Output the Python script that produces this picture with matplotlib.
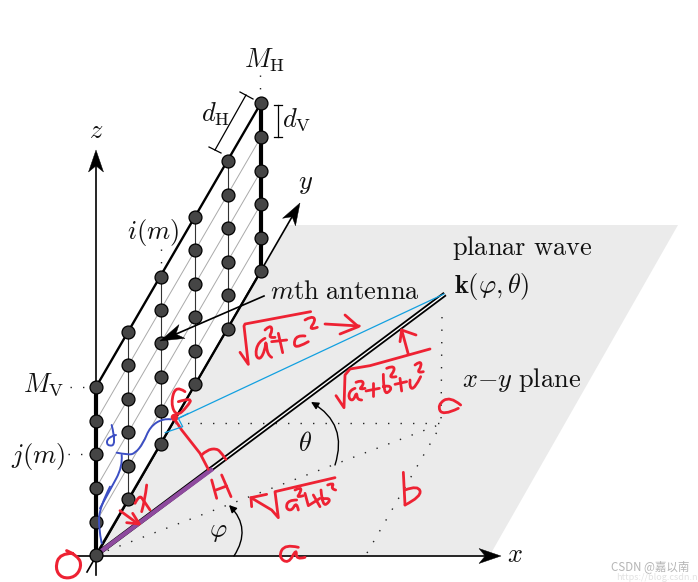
"""
Planar array geometry sketch, with the hand drawn red and blue notes on top.
All coordinates are image pixels (y going down).
"""

import math

import matplotlib

matplotlib.use("Agg")
import matplotlib.pyplot as plt
from matplotlib.patches import FancyArrowPatch, PathPatch, Polygon
from matplotlib.path import Path

plt.rcParams["mathtext.fontset"] = "cm"

RED = "#ee2233"
BLUE = "#3c4fc4"
CYAN = "#12a0e0"
PURPLE = "#8e4a9e"

# antenna rows for every column, x -> y of the elements
col_x = [96, 128, 161, 195, 228, 261]
col_0 = [555, 522, 488, 454, 421, 387]
col_1 = [499, 466, 432, 399, 365, 332]
col_2 = [444, 411, 377, 343, 310, 277]
col_3 = [384, 351, 317, 284, 250, 217]
col_4 = [329, 295, 262, 228, 195, 161]
col_5 = [271, 238, 204, 171, 137, 103]
columns = [col_0, col_1, col_2, col_3, col_4, col_5]

plane = [(96, 555), (490, 555), (678, 225), (288, 225)]

# dotted construction lines
dots_floor = [(96, 555), (441, 424)]
dots_horizontal = [(175, 423), (441, 423)]
dots_vertical = [(442, 317), (441, 424)]
dots_b = [(367, 553), (441, 425)]
dots_mh = [(260, 75), (260, 95)]
dots_im = [(161, 249), (161, 272)]
dots_mv = [(70, 387), (90, 387)]
dots_jm = [(68, 454), (90, 454)]

# hand drawn strokes, given in 3x crop coordinates
# origin (0, 340)
o_loop = [(218, 640), (180, 640), (165, 685), (185, 715), (225, 712), (245, 680), (235, 648), (200, 632)]
right_angle = [(605, 345), (620, 330), (650, 325), (665, 340), (678, 358)]
h_left = [(635, 420), (650, 475)]
h_right = [(665, 405), (693, 470)]
h_bar = [(648, 450), (680, 438)]
blue_tail_low = [(330, 440), (300, 500), (295, 560), (305, 610)]

# origin (100, 380)
g_letter = [(255, 35), (228, 15), (212, 70), (230, 110), (262, 80), (278, 52), (235, 65)]
perp_line = [(222, 115), (245, 150), (300, 220), (325, 268)]
gamma_left = [(105, 370), (118, 345), (130, 360), (150, 390)]
gamma_right = [(140, 315), (135, 360), (125, 395)]
gamma_arrow = [(60, 392), (115, 432)]
gamma_head = [(80, 428), (118, 432), (98, 400)]
blue_curve = [(212, 118), (190, 115), (150, 140), (130, 190), (105, 220), (85, 225), (50, 218)]
blue_tail = [(65, 225), (68, 260), (30, 330), (0, 385)]
blue_d = [(48, 165), (22, 172), (20, 198), (50, 195), (35, 135)]
cyan_hook = [(195, 158), (248, 140), (235, 115), (265, 100)]

# origin (230, 300): root of a^2 + c^2
ac_root = [(30, 157), (55, 193), (42, 78), (45, 72), (242, 35)]
ac_a = [(105, 115), (85, 125), (75, 165), (90, 180), (105, 150), (108, 118), (112, 165), (125, 172)]
ac_sq_a = [(105, 90), (120, 75), (128, 90), (115, 115), (135, 112)]
ac_plus_h = [(125, 125), (170, 120)]
ac_plus_v = [(145, 100), (158, 158)]
ac_c = [(225, 108), (200, 105), (190, 135), (205, 142), (235, 125)]
ac_sq_c = [(225, 60), (245, 48), (258, 60), (235, 92), (262, 82)]
ac_arrow = [(285, 72), (388, 78)]
ac_head = [(345, 45), (385, 80), (330, 102)]

# origin (330, 325): root of a^2 + b^2 + c^2
abc_root = [(18, 212), (42, 248), (45, 150), (60, 132), (120, 122), (300, 72)]
abc_a = [(75, 190), (60, 195), (55, 220), (70, 228), (80, 200), (82, 225), (95, 225)]
abc_sq_a = [(78, 172), (95, 165), (102, 178), (85, 195), (105, 190)]
abc_plus1_h = [(108, 198), (148, 190)]
abc_plus1_v = [(130, 175), (130, 212)]
abc_b = [(160, 148), (160, 210), (185, 195), (178, 180), (160, 185)]
abc_sq_b = [(170, 130), (188, 122), (195, 135), (175, 160), (198, 155)]
abc_plus2_h = [(195, 178), (230, 170)]
abc_plus2_v = [(210, 160), (215, 198)]
abc_c = [(240, 165), (238, 190), (255, 190), (272, 155)]
abc_sq_c = [(255, 120), (270, 108), (275, 122), (260, 145), (280, 140)]
abc_arrow = [(235, 88), (215, 15)]
abc_head = [(210, 50), (215, 15), (258, 30)]

# origin (245, 475): root of a^2 + b^2
ab_head = [(65, 58), (18, 68), (20, 95)]
ab_root = [(18, 68), (80, 105), (100, 128), (90, 50), (270, 8)]
ab_a = [(155, 75), (130, 75), (122, 100), (140, 108), (155, 80), (160, 105)]
ab_sq_a = [(150, 45), (170, 35), (165, 55), (155, 68), (175, 62)]
ab_plus = [(180, 55), (190, 92), (225, 70)]
ab_plus_v = [(205, 60), (225, 95)]
ab_b = [(228, 45), (232, 95), (255, 80), (250, 68), (232, 72)]
ab_sq_b = [(248, 30), (268, 22), (258, 42), (272, 45)]

# origin (220, 230) and (220, 440)
c_stroke = [(722, 525), (690, 498), (652, 525), (668, 558), (715, 535)]
small_a = [(235, 322), (195, 312), (175, 350), (205, 372), (230, 325), (228, 360), (255, 352)]
b_stem = [(550, 97), (555, 195)]
b_loop = [(555, 150), (595, 135), (605, 170), (555, 195)]


def crop(points, x0, y0):
    return [(x0 + px / 3, y0 + py / 3) for px, py in points]


def stroke(ax, points, x0, y0, color=RED, lw=2.0, smooth=True):
    pts = crop(points, x0, y0)
    if not smooth or len(pts) < 3:
        ax.plot(*zip(*pts), color=color, lw=lw, solid_capstyle="round", solid_joinstyle="round", zorder=8)
        return
    # quadratic pieces through the midpoints keep the pen stroke round
    verts = [pts[0]]
    codes = [Path.MOVETO]
    for p, q in zip(pts[1:-1], pts[2:-1]):
        verts += [p, ((p[0] + q[0]) / 2, (p[1] + q[1]) / 2)]
        codes += [Path.CURVE3, Path.CURVE3]
    verts += [pts[-2], pts[-1]]
    codes += [Path.CURVE3, Path.CURVE3]
    ax.add_patch(PathPatch(Path(verts, codes), fc="none", ec=color, lw=lw, capstyle="round", joinstyle="round", zorder=8))


def dotted(ax, points):
    ax.plot(*zip(*points), color="#222222", lw=1.0, ls=(0, (1, 8)), zorder=2)


def stealth(ax, start, tip, length=22, width=15, zorder=5):
    # notched arrow head as LaTeX draws it
    ang = math.atan2(tip[1] - start[1], tip[0] - start[0])
    ux, uy = math.cos(ang), math.sin(ang)
    nx, ny = -uy, ux
    bx, by = tip[0] - ux * length, tip[1] - uy * length
    notch = (tip[0] - ux * length * 0.72, tip[1] - uy * length * 0.72)
    head = [tip, (bx + nx * width / 2, by + ny * width / 2), notch, (bx - nx * width / 2, by - ny * width / 2)]
    ax.add_patch(Polygon(head, closed=True, fc="black", ec="black", lw=0.3, zorder=zorder))
    ax.plot([start[0], notch[0]], [start[1], notch[1]], color="black", lw=1.2, zorder=zorder)


fig = plt.figure(figsize=(6.98, 5.82), dpi=100)
ax = fig.add_axes([0, 0, 1, 1])
ax.set_xlim(0, 698)
ax.set_ylim(582, 0)
ax.axis("off")

ax.add_patch(Polygon(plane, closed=True, facecolor="#ebebeb", edgecolor="none", zorder=0))

# white panel of the array hides the plane behind it
panel = [(col_x[0], col_0[0]), (col_x[5], col_5[0]), (col_x[5], col_5[-1]), (col_x[0], col_0[-1])]
ax.add_patch(Polygon(panel, closed=True, facecolor="white", edgecolor="none", zorder=1))

for d in [dots_floor, dots_horizontal, dots_vertical, dots_b, dots_mh, dots_im, dots_mv, dots_jm]:
    dotted(ax, d)

# axes
stealth(ax, (76, 556), (501, 556), zorder=3)
stealth(ax, (96, 575), (96, 150), zorder=3)
stealth(ax, (87, 572), (300, 203), zorder=3)

# grid lines of the array
for i in range(6):
    ax.plot([col_x[0], col_x[5]], [col_0[i], col_5[i]], color="#aaaaaa", lw=0.7, zorder=3)
for x, ys in zip(col_x[1:5], columns[1:5]):
    ax.plot([x, x], [ys[0], ys[-1]], color="#333333", lw=0.8, zorder=3)
ax.plot([col_x[0], col_x[0]], [col_0[0], col_0[-1]], color="black", lw=3, zorder=4)
ax.plot([col_x[5], col_x[5]], [col_5[0], col_5[-1]], color="black", lw=3, zorder=4)
ax.plot([col_x[0], col_x[5]], [col_0[0], col_5[0]], color="black", lw=1.7, zorder=4)
ax.plot([col_x[0], col_x[5]], [col_0[-1], col_5[-1]], color="black", lw=1.7, zorder=4)

# wave vector, drawn as a double line
ax.plot([96, 445], [555, 294], color="black", lw=3.6, zorder=4, solid_capstyle="butt")
ax.plot([96, 445], [555, 294], color="white", lw=1.0, zorder=4, solid_capstyle="butt")
ax.plot([100, 211], [552, 470], color=PURPLE, lw=3.2, zorder=5)

for x, ys in zip(col_x, columns):
    ax.plot([x] * len(ys), ys, ls="none", marker="o", ms=9.3, mfc="#454545", mec="black", mew=0.9, zorder=6)

# dimension marks
ax.plot([246, 215], [95, 150], color="black", lw=0.9)
ax.plot([240, 253], [92, 99], color="black", lw=0.9)
ax.plot([209, 221], [147, 153], color="black", lw=0.9)
ax.plot([278, 278], [105, 137], color="black", lw=0.9)
ax.plot([274, 282], [105, 105], color="black", lw=0.9)
ax.plot([274, 282], [137, 137], color="black", lw=0.9)

# angle arcs and the mth antenna pointer
ax.add_patch(FancyArrowPatch((234, 556), (229, 505), connectionstyle="arc3,rad=0.4", arrowstyle="-|>",
                             color="black", lw=1.0, mutation_scale=11, shrinkA=0, shrinkB=0, zorder=5))
ax.add_patch(FancyArrowPatch((335, 465), (311, 402), connectionstyle="arc3,rad=0.4", arrowstyle="-|>",
                             color="black", lw=1.0, mutation_scale=11, shrinkA=0, shrinkB=0, zorder=5))
stealth(ax, (264, 296), (160, 341), length=24, width=15, zorder=7)

labels = [
    (96, 131, r"$z$"),
    (306, 183, r"$y$"),
    (515, 555, r"$x$"),
    (264, 60, r"$M_{\mathrm{H}}$"),
    (215, 114, r"$d_{\mathrm{H}}$"),
    (297, 120, r"$d_{\mathrm{V}}$"),
    (153, 232, r"$i(m)$"),
    (44, 385, r"$M_{\mathrm{V}}$"),
    (38, 456, r"$j(m)$"),
    (345, 292, r"$m\mathrm{th\ antenna}$"),
    (522, 248, r"$\mathrm{planar\ wave}$"),
    (492, 287, r"$\mathbf{k}(\varphi,\theta)$"),
    (522, 380, r"$x\mathrm{-}y\ \mathrm{plane}$"),
    (305, 444, r"$\theta$"),
    (218, 531, r"$\varphi$"),
]
for tx, ty, s in labels:
    ax.text(tx, ty, s, fontsize=19, ha="center", va="center", color="#111111", zorder=9)

# handwritten notes
stroke(ax, o_loop, 0, 340, lw=2.2)
stroke(ax, right_angle, 0, 340)
for s in [h_left, h_right, h_bar]:
    stroke(ax, s, 0, 340)
stroke(ax, g_letter, 100, 380)
stroke(ax, perp_line, 100, 380, smooth=False)
for s in [gamma_left, gamma_right, gamma_arrow]:
    stroke(ax, s, 100, 380)
stroke(ax, gamma_head, 100, 380, smooth=False)
ax.plot(174, 417, "o", color=RED, ms=4.5, zorder=8)

stroke(ax, blue_curve, 100, 380, color=BLUE, lw=1.4)
stroke(ax, blue_tail, 100, 380, color=BLUE, lw=1.4)
stroke(ax, blue_tail_low, 0, 340, color=BLUE, lw=1.4)
stroke(ax, blue_d, 100, 380, color=BLUE, lw=1.4)

ax.plot([175, 444], [420, 294], color=CYAN, lw=0.9, zorder=7)
stroke(ax, cyan_hook, 100, 380, color=CYAN, lw=0.9, smooth=False)

for s in [ac_a, ac_sq_a, ac_plus_h, ac_plus_v, ac_c, ac_sq_c, ac_arrow]:
    stroke(ax, s, 230, 300)
for s in [ac_root, ac_head]:
    stroke(ax, s, 230, 300, smooth=False)
for s in [abc_a, abc_sq_a, abc_plus1_h, abc_plus1_v, abc_b, abc_sq_b, abc_plus2_h, abc_plus2_v,
          abc_c, abc_sq_c, abc_arrow]:
    stroke(ax, s, 330, 325)
for s in [abc_root, abc_head]:
    stroke(ax, s, 330, 325, smooth=False)
for s in [ab_a, ab_sq_a, ab_plus_v, ab_b, ab_sq_b]:
    stroke(ax, s, 245, 475)
for s in [ab_head, ab_root, ab_plus]:
    stroke(ax, s, 245, 475, smooth=False)
stroke(ax, c_stroke, 220, 230)
for s in [small_a, b_stem, b_loop]:
    stroke(ax, s, 220, 440)

# watermark
cjk = ["Noto Sans CJK SC", "DejaVu Sans"]
ax.text(689, 567, "CSDN @嘉以南", family=cjk, fontsize=8.3, color="#b5b5b5", ha="right", va="center", zorder=10)
ax.text(698, 578, "https://blog.csdn.n", family=cjk, fontsize=6.5, color="#e2e2e2", ha="right", va="center", zorder=10)

fig.savefig("out.png", dpi=100)
